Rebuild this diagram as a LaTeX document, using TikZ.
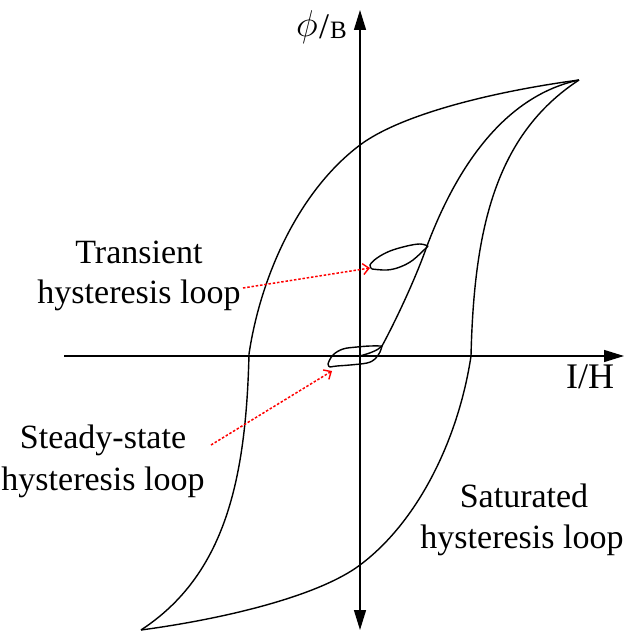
\documentclass[tikz,border=0pt]{standalone}
\usepackage{fontspec}
\setmainfont{Liberation Serif}
\newfontfamily\labelfont{Liberation Serif}
\usetikzlibrary{arrows.meta}
\begin{document}
\begin{tikzpicture}[x=1pt,y=-1pt,
  curve/.style={line width=1.4pt, black, line join=round},
  axisline/.style={line width=1.4pt, black},
  pointer/.style={red, line width=1.5pt, dash pattern=on 2.5pt off 1.8pt,
    -{Straight Barb[length=6pt,width=11pt,line width=1.4pt]}},
  lbl/.style={anchor=base, inner sep=0pt, font=\labelfont\fontsize{34}{40}\selectfont},
]
\useasboundingbox (0,0) rectangle (629,631);

% axes
\coordinate (O) at (360,356);
\coordinate (xl) at (64,356);
\coordinate (xr) at (624,356);
\coordinate (yt) at (360,10);
\coordinate (yb) at (360,630);
\draw[axisline, -{Triangle[length=20pt,width=12pt]}] (xl) -- (xr);
\draw[axisline, {Triangle[length=20pt,width=12pt]}-{Triangle[length=20pt,width=12pt]}] (yb) -- (yt);

% tips and key points of the saturated loop
\coordinate (tipB) at (141,630);
\coordinate (tipT) at (579,80);
\coordinate (lowV) at (360,565);
\coordinate (lowH) at (471,356);
\coordinate (upV) at (360,145);
\coordinate (upH) at (249,354);

% saturated loop: lower (ascending) branch
\draw[curve] (tipB) .. controls (230,618) and (320,595) .. (lowV)
  .. controls (420,520) and (459,436) .. (lowH)
  .. controls (474,230) and (495,135) .. (tipT);
% saturated loop: upper (descending) branch
\draw[curve] (tipT) .. controls (490,92) and (400,115) .. (upV)
  .. controls (300,190) and (261,274) .. (upH)
  .. controls (246,480) and (225,575) .. (tipB);

% initial magnetisation curve
\coordinate (ssR) at (382,346);
\coordinate (trR) at (427,246);
\draw[curve] (O) .. controls (370,353) and (377,351) .. (ssR)
  .. controls (395,322) and (415,280) .. (trR)
  .. controls (450,185) and (495,98) .. (tipT);

% transient loop
\draw[curve] plot[smooth, tension=0.6] coordinates {
  (372,269) (370,265) (377,258) (390,251) (407,246) (420,244) (428,246)};
\draw[curve] plot[smooth, tension=0.6] coordinates {
  (428,246) (413,260) (400,267) (387,270) (372,269)};

% steady-state loop
\draw[curve] plot[smooth, tension=0.6] coordinates {
  (330,367) (328,364) (333,355) (343,349) (357,347) (370,346) (382,346)};
\draw[curve] plot[smooth, tension=0.6] coordinates {
  (382,346) (380,352) (375,359) (367,363) (350,365) (337,366) (330,367)};

% axis labels
\node[anchor=base, inner sep=0pt, scale=1.5] (phi) at (307,37) {\fontsize{24}{28}\selectfont$\phi$};
\node[anchor=base west, inner sep=0pt] (B) at (319,39)
  {\labelfont\fontsize{36}{40}\selectfont/\kern1pt\fontsize{25}{30}\selectfont B};
\node[anchor=base west, inner sep=0pt] (IH) at (566,388) {\labelfont\fontsize{36}{40}\selectfont I/H};

% labels
\node[lbl] (tr1) at (139,263) {Transient};
\node[lbl] (tr2) at (139,303) {hysteresis loop};
\node[lbl] (st1) at (103,448) {Steady-state};
\node[lbl] (st2) at (103,490) {hysteresis loop};
\node[lbl] (sa1) at (524,507) {Saturated};
\node[lbl] (sa2) at (522,548) {hysteresis loop};

% pointers
\coordinate (tstart) at (243,288);
\coordinate (ttip) at (370,268);
\coordinate (sstart) at (211,445);
\coordinate (stip) at (332,371);
\draw[pointer] (tstart) -- (ttip);
\draw[pointer] (sstart) -- (stip);
\end{tikzpicture}
\end{document}
